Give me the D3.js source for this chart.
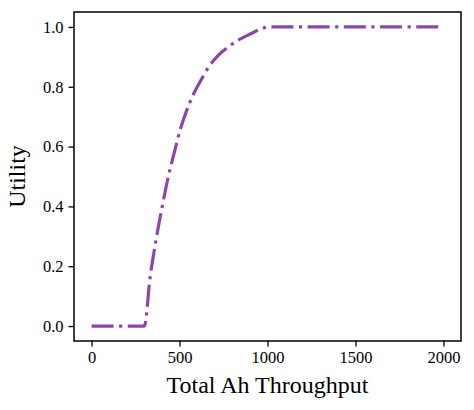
<!DOCTYPE html>
<html>
<head>
<meta charset="utf-8">
<script src="https://cdn.jsdelivr.net/npm/d3@7"></script>
<style>
  body { margin: 0; background: #fff; }
  svg { display: block; }
  text { font-family: "Liberation Serif", "DejaVu Serif", serif; fill: #000; }
</style>
</head>
<body>
<div id="chart"></div>
<script>
// values
var throughput = [0, 300, 333, 367, 405, 440, 470, 503, 540, 575, 620, 670, 720, 770, 830, 880, 930, 980, 1000, 1500, 2000]
var utility = [0, 0, 0.165, 0.29, 0.41, 0.51, 0.58, 0.655, 0.72, 0.77, 0.82, 0.87, 0.905, 0.93, 0.955, 0.97, 0.985, 0.997, 1.0, 1.0, 1.0]
var xTicks = [0, 500, 1000, 1500, 2000]
var yTicks = [0, 0.2, 0.4, 0.6, 0.8, 1.0]

var width = 474
var height = 410
var margin = { top: 12, right: 13, bottom: 69, left: 74 }
var lineColor = '#8e44ad'

var svg = d3.select('#chart').append('svg')
  .attr('width', width)
  .attr('height', height)

var x = d3.scaleLinear().domain([-100, 2100]).range([margin.left, width - margin.right])
var y = d3.scaleLinear().domain([-0.05, 1.05]).range([height - margin.bottom, margin.top])

// x axis
var xAxis = svg.append('g')
  .attr('transform', 'translate(0,' + (height - margin.bottom) + ')')
  .call(d3.axisBottom(x).tickValues(xTicks).tickFormat(d3.format('d')).tickSize(5.5).tickPadding(5))
xAxis.select('.domain').remove()
xAxis.selectAll('line').attr('stroke', '#000').attr('stroke-width', 1.3)
xAxis.selectAll('text').style('font-size', '16.5px')

// y axis
var yAxis = svg.append('g')
  .attr('transform', 'translate(' + margin.left + ',0)')
  .call(d3.axisLeft(y).tickValues(yTicks).tickFormat(d3.format('.1f')).tickSize(5.5).tickPadding(5))
yAxis.select('.domain').remove()
yAxis.selectAll('line').attr('stroke', '#000').attr('stroke-width', 1.3)
yAxis.selectAll('text').style('font-size', '16.5px')

// plot frame
svg.append('rect')
  .attr('x', margin.left)
  .attr('y', margin.top)
  .attr('width', width - margin.left - margin.right)
  .attr('height', height - margin.top - margin.bottom)
  .attr('fill', 'none')
  .attr('stroke', '#000')
  .attr('stroke-width', 1.5)

// curve
var points = throughput.map(function (d, i) { return [d, utility[i]] })
var line = d3.line()
  .x(function (d) { return x(d[0]) })
  .y(function (d) { return y(d[1]) })
  .curve(d3.curveMonotoneX)

svg.append('path')
  .datum(points)
  .attr('d', line)
  .attr('fill', 'none')
  .attr('stroke', lineColor)
  .attr('stroke-width', 3.2)
  .attr('stroke-dasharray', '22,5.5,3.2,5.5')

// axis labels
svg.append('text')
  .attr('x', (margin.left + width - margin.right) / 2)
  .attr('y', 393)
  .attr('text-anchor', 'middle')
  .style('font-size', '24px')
  .text('Total Ah Throughput')

svg.append('text')
  .attr('transform', 'translate(25,' + ((margin.top + height - margin.bottom) / 2) + ') rotate(-90)')
  .attr('text-anchor', 'middle')
  .style('font-size', '24px')
  .text('Utility')
</script>
</body>
</html>
